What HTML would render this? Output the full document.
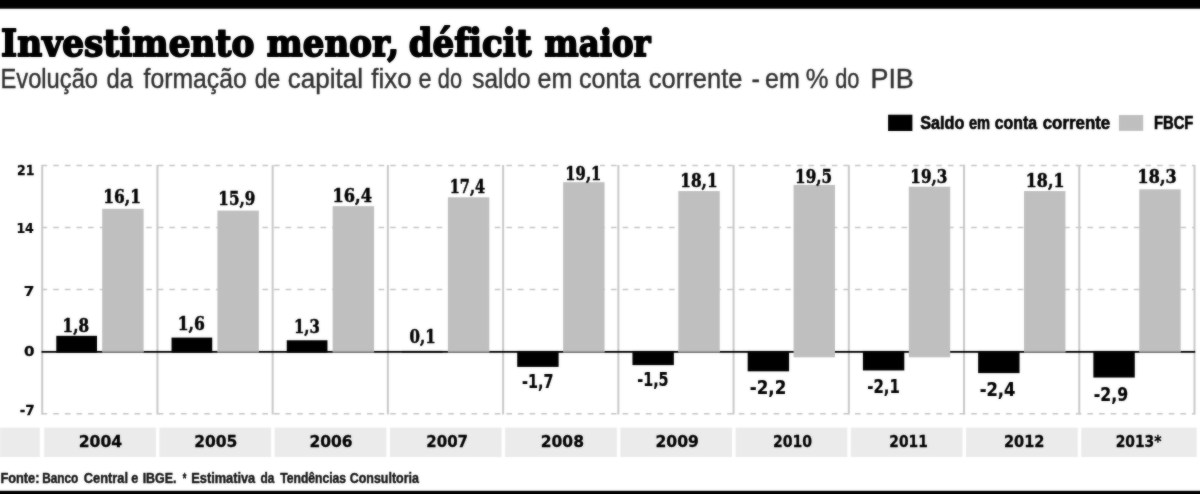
<!DOCTYPE html>
<html lang="pt-BR"><head><meta charset="utf-8"><title>Investimento menor, déficit maior</title>
<style>html,body{margin:0;padding:0;background:#fff}text{font-variant-ligatures:none}body{width:1200px;height:494px;overflow:hidden}svg{display:block}</style>
</head><body>
<svg width="1200" height="494" viewBox="0 0 1200 494" role="img" aria-label="Investimento menor, déficit maior">
<rect width="1200" height="494" fill="#fff"/>
<defs><filter id="soft" filterUnits="userSpaceOnUse" x="-40" y="-40" width="1280" height="574" color-interpolation-filters="sRGB"><feGaussianBlur stdDeviation="1" result="b"/><feComposite in="SourceGraphic" in2="b" operator="arithmetic" k1="0" k2="0.58" k3="0.42" k4="0"/></filter></defs>
<g filter="url(#soft)">
<rect x="-30" y="-30" width="1260" height="554" fill="#fff"/>
<rect x="-30" y="-30" width="1260" height="38.7" fill="#000"/>
<rect x="-30" y="490.8" width="1260" height="33.2" fill="#000"/>
<rect x="888.1" y="114.7" width="24.3" height="16.3" fill="#000"/>
<rect x="1118.9" y="115.0" width="24.3" height="15.9" fill="#bfbfbf"/>
<line x1="41.6" y1="165.5" x2="1194.5" y2="165.5" stroke="#c5c5c5" stroke-width="1.45" stroke-dasharray="5.6 6.02"/>
<line x1="41.6" y1="227.4" x2="1194.5" y2="227.4" stroke="#c5c5c5" stroke-width="1.45" stroke-dasharray="5.6 6.02"/>
<line x1="41.6" y1="289.4" x2="1194.5" y2="289.4" stroke="#c5c5c5" stroke-width="1.45" stroke-dasharray="5.6 6.02"/>
<line x1="41.6" y1="413.8" x2="1194.5" y2="413.8" stroke="#c5c5c5" stroke-width="1.45" stroke-dasharray="5.6 6.02"/>
<line x1="42.2" y1="165" x2="42.2" y2="414.5" stroke="#c8c8c8" stroke-width="2"/>
<line x1="157.43" y1="165" x2="157.43" y2="414.5" stroke="#c8c8c8" stroke-width="2"/>
<line x1="272.66" y1="165" x2="272.66" y2="414.5" stroke="#c8c8c8" stroke-width="2"/>
<line x1="387.89" y1="165" x2="387.89" y2="414.5" stroke="#c8c8c8" stroke-width="2"/>
<line x1="503.12" y1="165" x2="503.12" y2="414.5" stroke="#c8c8c8" stroke-width="2"/>
<line x1="618.35" y1="165" x2="618.35" y2="414.5" stroke="#c8c8c8" stroke-width="2"/>
<line x1="733.58" y1="165" x2="733.58" y2="414.5" stroke="#c8c8c8" stroke-width="2"/>
<line x1="848.81" y1="165" x2="848.81" y2="414.5" stroke="#c8c8c8" stroke-width="2"/>
<line x1="964.04" y1="165" x2="964.04" y2="414.5" stroke="#c8c8c8" stroke-width="2"/>
<line x1="1079.27" y1="165" x2="1079.27" y2="414.5" stroke="#c8c8c8" stroke-width="2"/>
<line x1="1194.5" y1="165" x2="1194.5" y2="414.5" stroke="#c8c8c8" stroke-width="2"/>
<rect x="563.6" y="163.5" width="36.4" height="18" fill="#fff"/>
<rect x="41.5" y="350.95" width="1153.7" height="1.85" fill="#000"/>
<rect x="102.2" y="208.83" width="41.4" height="143.27" fill="#bfbfbf"/>
<rect x="102.2" y="351.2" width="41.4" height="1.5" fill="#8e8e8e"/>
<rect x="56.3" y="335.82" width="40.7" height="16.83" fill="#000"/>
<rect x="217.43" y="210.61" width="41.4" height="141.49" fill="#bfbfbf"/>
<rect x="217.43" y="351.2" width="41.4" height="1.5" fill="#8e8e8e"/>
<rect x="171.53" y="337.59" width="40.7" height="15.06" fill="#000"/>
<rect x="332.66" y="206.17" width="41.4" height="145.93" fill="#bfbfbf"/>
<rect x="332.66" y="351.2" width="41.4" height="1.5" fill="#8e8e8e"/>
<rect x="286.76" y="340.26" width="40.7" height="12.39" fill="#000"/>
<rect x="447.89" y="197.29" width="41.4" height="154.81" fill="#bfbfbf"/>
<rect x="447.89" y="351.2" width="41.4" height="1.5" fill="#8e8e8e"/>
<rect x="401.99" y="350.91" width="40.7" height="1.74" fill="#000"/>
<rect x="563.12" y="182.19" width="41.4" height="169.91" fill="#bfbfbf"/>
<rect x="563.12" y="351.2" width="41.4" height="1.5" fill="#8e8e8e"/>
<rect x="517.22" y="350.95" width="41.4" height="15.95" fill="#000"/>
<rect x="678.35" y="191.07" width="41.4" height="161.03" fill="#bfbfbf"/>
<rect x="678.35" y="351.2" width="41.4" height="1.5" fill="#8e8e8e"/>
<rect x="632.45" y="350.95" width="41.4" height="14.17" fill="#000"/>
<rect x="793.58" y="184.94" width="41.4" height="172.36" fill="#bfbfbf"/>
<rect x="747.68" y="350.95" width="41.4" height="20.39" fill="#000"/>
<rect x="908.81" y="186.72" width="41.4" height="170.58" fill="#bfbfbf"/>
<rect x="862.91" y="350.95" width="41.4" height="19.5" fill="#000"/>
<rect x="1024.04" y="191.07" width="41.4" height="161.03" fill="#bfbfbf"/>
<rect x="1024.04" y="351.2" width="41.4" height="1.5" fill="#8e8e8e"/>
<rect x="978.14" y="350.95" width="41.4" height="22.16" fill="#000"/>
<rect x="1139.27" y="189.3" width="41.4" height="162.8" fill="#bfbfbf"/>
<rect x="1139.27" y="351.2" width="41.4" height="1.5" fill="#8e8e8e"/>
<rect x="1093.37" y="350.95" width="41.4" height="26.6" fill="#000"/>
<rect x="0" y="427.6" width="39.8" height="29.4" fill="#ebebeb"/>
<rect x="44.2" y="427.6" width="111.73" height="29.4" fill="#ebebeb"/>
<rect x="159.43" y="427.6" width="111.73" height="29.4" fill="#ebebeb"/>
<rect x="274.66" y="427.6" width="111.73" height="29.4" fill="#ebebeb"/>
<rect x="389.89" y="427.6" width="111.73" height="29.4" fill="#ebebeb"/>
<rect x="505.12" y="427.6" width="111.73" height="29.4" fill="#ebebeb"/>
<rect x="620.35" y="427.6" width="111.73" height="29.4" fill="#ebebeb"/>
<rect x="735.58" y="427.6" width="111.73" height="29.4" fill="#ebebeb"/>
<rect x="850.81" y="427.6" width="111.73" height="29.4" fill="#ebebeb"/>
<rect x="966.04" y="427.6" width="111.73" height="29.4" fill="#ebebeb"/>
<rect x="1081.27" y="427.6" width="115.43" height="29.4" fill="#ebebeb"/>
<g font-family="'DejaVu Serif','Liberation Serif',serif" font-size="38" font-weight="bold" fill="#000" stroke="#000" stroke-width="1.9" stroke-linejoin="round">
<text transform="matrix(0.9048 0 0 1 1.12 55.85)">Investimento</text>
<text transform="matrix(0.8960 0 0 1 266.78 55.85)">menor,</text>
<text transform="matrix(0.8978 0 0 1 408.75 55.85)">déficit</text>
<text transform="matrix(0.8501 0 0 1 544.59 55.85)">maior</text>
</g>
<g font-family="'Liberation Sans','DejaVu Sans',sans-serif" font-size="27.47" font-weight="normal" fill="#2e2e2e" stroke="#2e2e2e" stroke-width="0.4" stroke-linejoin="round">
<text transform="matrix(0.8636 0 0 1 0.47 88.20)">Evolução</text>
<text transform="matrix(0.8639 0 0 1 106.44 88.20)">da</text>
<text transform="matrix(0.9015 0 0 1 143.57 88.20)">formação</text>
<text transform="matrix(0.8351 0 0 1 254.76 88.20)">de</text>
<text transform="matrix(0.9498 0 0 1 287.65 88.20)">capital</text>
<text transform="matrix(0.9398 0 0 1 371.37 88.20)">fixo</text>
<text transform="matrix(0.8528 0 0 1 418.45 88.20)">e</text>
<text transform="matrix(0.7930 0 0 1 437.81 88.20)">do</text>
<text transform="matrix(0.8887 0 0 1 472.26 88.20)">saldo</text>
<text transform="matrix(0.9155 0 0 1 537.58 88.20)">em</text>
<text transform="matrix(0.9158 0 0 1 578.88 88.20)">conta</text>
<text transform="matrix(0.9286 0 0 1 648.87 88.20)">corrente</text>
<text transform="matrix(0.9286 0 0 1 751.57 88.20)">-</text>
<text transform="matrix(0.9099 0 0 1 765.09 88.20)">em</text>
<text transform="matrix(0.9304 0 0 1 805.70 88.20)">%</text>
<text transform="matrix(0.7930 0 0 1 835.21 88.20)">do</text>
<text transform="matrix(0.9805 0 0 1 870.44 88.20)">PIB</text>
</g>
<g font-family="'Liberation Sans','DejaVu Sans',sans-serif" font-size="17.59" font-weight="bold" fill="#000" stroke="#000" stroke-width="0.6" stroke-linejoin="round">
<text transform="matrix(0.9206 0 0 1 920.27 128.60)">Saldo</text>
<text transform="matrix(0.8333 0 0 1 968.88 128.60)">em</text>
<text transform="matrix(0.9005 0 0 1 994.75 128.60)">conta</text>
<text transform="matrix(0.9597 0 0 1 1042.72 128.60)">corrente</text>
</g>
<g font-family="'Liberation Sans','DejaVu Sans',sans-serif" font-size="17.59" font-weight="bold" fill="#000" stroke="#000" stroke-width="0.6" stroke-linejoin="round">
<text transform="matrix(0.8396 0 0 1 1153.96 128.60)">FBCF</text>
</g>
<g font-family="'DejaVu Sans','Liberation Sans',sans-serif" font-size="14.47" font-weight="bold" fill="#000" stroke="#000" stroke-width="0.25" stroke-linejoin="round">
<text transform="matrix(0.8658 0 0 1 17.03 174.88)">21</text>
<text transform="matrix(0.8667 0 0 1 16.40 233.38)">14</text>
<text transform="matrix(1.0545 0 0 1 23.81 296.38)">7</text>
<text transform="matrix(1.0444 0 0 1 24.08 355.88)">0</text>
<text transform="matrix(0.9333 0 0 1 19.70 415.38)">-7</text>
</g>
<g font-family="'DejaVu Serif','Liberation Serif',serif" font-size="17.92" font-weight="bold" fill="#000" stroke="#000" stroke-width="0.5" stroke-linejoin="round">
<text transform="matrix(0.8650 0 0 1 103.27 203.15)">16,1</text>
<text transform="matrix(0.8491 0 0 1 218.30 205.25)">15,9</text>
<text transform="matrix(0.9073 0 0 1 332.49 202.45)">16,4</text>
<text transform="matrix(0.8098 0 0 1 449.78 193.15)">17,4</text>
<text transform="matrix(0.8250 0 0 1 565.35 180.25)">19,1</text>
<text transform="matrix(0.8550 0 0 1 680.29 187.05)">18,1</text>
<text transform="matrix(0.8494 0 0 1 795.10 182.55)">19,5</text>
<text transform="matrix(0.8491 0 0 1 910.30 183.35)">19,3</text>
<text transform="matrix(0.8850 0 0 1 1025.83 186.75)">18,1</text>
<text transform="matrix(0.8933 0 0 1 1137.61 183.05)">18,3</text>
</g>
<g font-family="'DejaVu Serif','Liberation Serif',serif" font-size="17.65" font-weight="bold" fill="#000" stroke="#000" stroke-width="0.5" stroke-linejoin="round">
<text transform="matrix(0.8607 0 0 1 62.58 331.75)">1,8</text>
<text transform="matrix(0.8857 0 0 1 177.63 330.45)">1,6</text>
<text transform="matrix(0.8432 0 0 1 293.91 332.65)">1,3</text>
<text transform="matrix(0.8522 0 0 1 409.57 342.85)">0,1</text>
</g>
<g font-family="'DejaVu Sans','Liberation Sans',sans-serif" font-size="18.79" font-weight="bold" fill="#000" stroke="#000" stroke-width="0.2" stroke-linejoin="round">
<text transform="matrix(0.7639 0 0 1 522.04 388.30)">-1,7</text>
<text transform="matrix(0.7639 0 0 1 637.24 386.20)">-1,5</text>
<text transform="matrix(0.8883 0 0 1 749.81 393.60)">-2,2</text>
<text transform="matrix(0.7949 0 0 1 867.21 392.60)">-2,1</text>
<text transform="matrix(0.8713 0 0 1 979.63 395.70)">-2,4</text>
<text transform="matrix(0.8385 0 0 1 1093.66 401.00)">-2,9</text>
</g>
<g font-family="'DejaVu Sans','Liberation Sans',sans-serif" font-size="16.32" font-weight="bold" fill="#000" stroke="#000" stroke-width="0.3" stroke-linejoin="round">
<text transform="matrix(0.9586 0 0 1 78.70 447.45)">2004</text>
<text transform="matrix(0.9503 0 0 1 194.21 447.45)">2005</text>
<text transform="matrix(0.9517 0 0 1 309.41 447.45)">2006</text>
<text transform="matrix(0.9209 0 0 1 426.25 447.45)">2007</text>
<text transform="matrix(0.9503 0 0 1 540.81 447.45)">2008</text>
<text transform="matrix(0.9572 0 0 1 655.40 447.45)">2009</text>
<text transform="matrix(0.8621 0 0 1 772.92 447.45)">2010</text>
<text transform="matrix(0.8462 0 0 1 889.34 447.45)">2011</text>
<text transform="matrix(0.8930 0 0 1 1003.88 447.45)">2012</text>
<text transform="matrix(0.8495 0 0 1 1115.64 447.45)">2013*</text>
</g>
<g font-family="'Liberation Sans','DejaVu Sans',sans-serif" font-size="14.03" font-weight="bold" fill="#151515" stroke="#151515" stroke-width="0.45" stroke-linejoin="round">
<text transform="matrix(0.9122 0 0 1 0.42 482.67)">Fonte:</text>
<text transform="matrix(0.8431 0 0 1 42.17 482.67)">Banco</text>
<text transform="matrix(0.9143 0 0 1 83.77 482.67)">Central</text>
<text transform="matrix(0.8966 0 0 1 131.18 482.67)">e</text>
<text transform="matrix(0.8844 0 0 1 142.64 482.67)">IBGE.</text>
<text transform="matrix(0.6667 0 0 1 182.77 482.67)">*</text>
<text transform="matrix(0.9118 0 0 1 191.32 482.67)">Estimativa</text>
<text transform="matrix(0.8485 0 0 1 260.39 482.67)">da</text>
<text transform="matrix(0.8660 0 0 1 280.20 482.67)">Tendências</text>
<text transform="matrix(0.8872 0 0 1 349.78 482.67)">Consultoria</text>
</g>
</g>
</svg>
</body></html>
